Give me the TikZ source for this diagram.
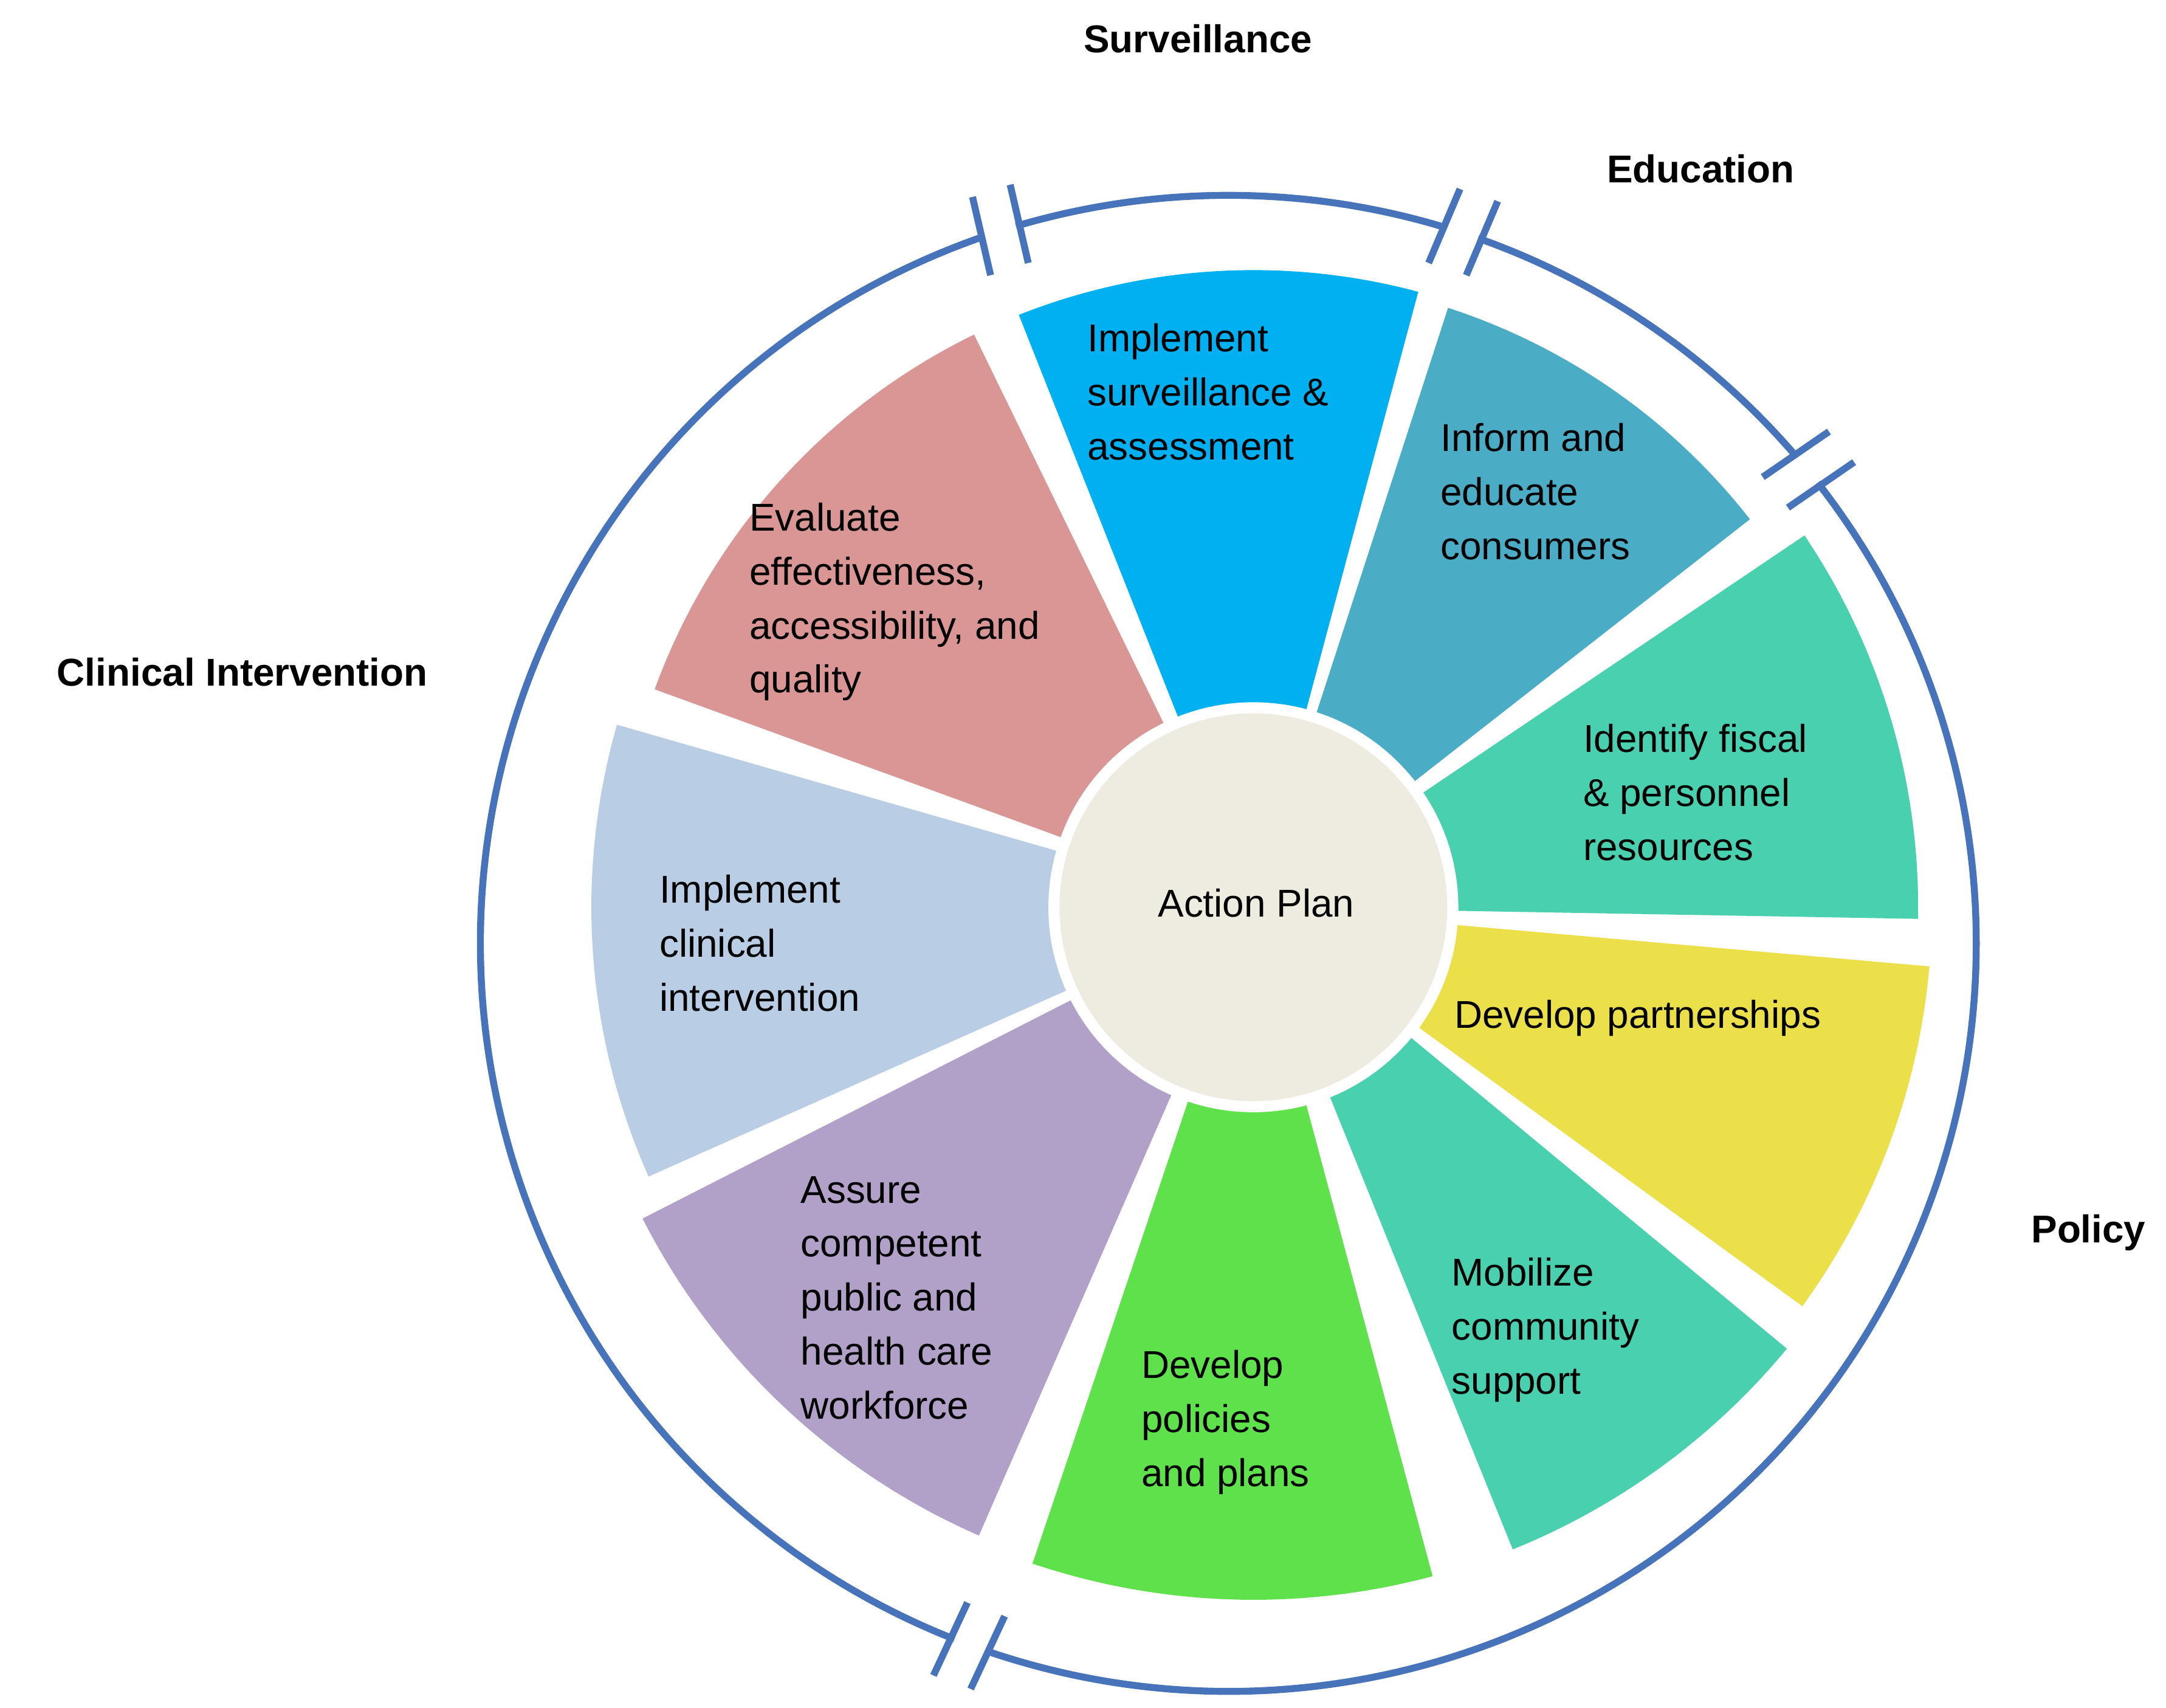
\documentclass[tikz,border=0pt]{standalone}
\usepackage{fontspec}
\setmainfont{Liberation Sans}
\definecolor{ring}{RGB}{70,115,185}
\definecolor{cblue}{RGB}{0,176,240}
\definecolor{cteal}{RGB}{75,172,198}
\definecolor{cgreen}{RGB}{72,208,175}
\definecolor{cyellow}{RGB}{235,223,74}
\definecolor{clime}{RGB}{95,225,75}
\definecolor{cpurple}{RGB}{177,160,199}
\definecolor{clight}{RGB}{185,205,228}
\definecolor{cpink}{RGB}{217,150,148}
\definecolor{ccore}{RGB}{238,236,225}
\tikzset{
 wtext/.style={anchor=west,align=left,font=\fontsize{28}{39}\selectfont,inner sep=0pt},
 head/.style={font=\fontsize{28}{34}\selectfont\bfseries,inner sep=0pt},
 ringline/.style={draw=ring,line width=5pt},
}
\begin{document}
\begin{tikzpicture}[x=1pt,y=1pt]
\useasboundingbox (0,0) rectangle (1564,-1233);
\coordinate (C) at (905,-655);
\coordinate (R) at (887,-681);
\foreach \a/\b/\r/\c in {75/111.6/460/cblue,38/72/455/cteal,-1/34/480/cgreen,-36/-5/490/cyellow,-68/-39.6/500/cgreen,-108.6/-75/500/clime,-153/-113.6/495/cpurple,164/204/478/clight,116/160/460/cpink}{
  \fill[\c] (C) -- ++(\a:\r pt) arc[start angle=\a,end angle=\b,radius=\r pt] -- cycle;
}
\node[circle,fill=ccore,draw=white,line width=8pt,minimum size=288pt] (core) at (C) {};
\node[font=\fontsize{28}{34}\selectfont] (ap) at (907,-652) {Action Plan};
% ring
\foreach \a/\b in {73.5/106.5,41/70.5,-108.5/38,109.5/248.5}{
  \draw[ringline] (R) ++(\a:540pt) arc[start angle=\a,end angle=\b,radius=540pt];
}
\foreach \t in {108,72,39.5,-110}{
  \draw[ringline] (R) ++(\t+1.6:512pt) -- ++(\t-5:58pt);
  \draw[ringline] (R) ++(\t-1.6:512pt) -- ++(\t-5:58pt);
}
% wedge texts
\node[wtext] (t1) at (785,-283) {Implement\\surveillance \&\\assessment};
\node[wtext] (t2) at (1040,-355) {Inform and\\educate\\consumers};
\node[wtext] (t3) at (1143,-572) {Identify fiscal\\\& personnel\\resources};
\node[wtext] (t4) at (1050,-735) {Develop partnerships};
\node[wtext] (t5) at (1048,-960) {Mobilize\\community\\support};
\node[wtext] (t6) at (824,-1027) {Develop\\policies\\and plans};
\node[wtext] (t7) at (578,-937) {Assure\\competent\\public and\\health care\\workforce};
\node[wtext] (t8) at (476,-681) {Implement\\clinical\\intervention};
\node[wtext] (t9) at (541,-434.5) {Evaluate\\effectiveness,\\accessibility, and\\quality};
% headings
\node[head] (h1) at (865,-28) {Surveillance};
\node[head] (h2) at (1228,-122) {Education};
\node[head] (h3) at (175,-485) {Clinical Intervention};
\node[head] (h4) at (1508,-890) {Policy};
\end{tikzpicture}
\end{document}
